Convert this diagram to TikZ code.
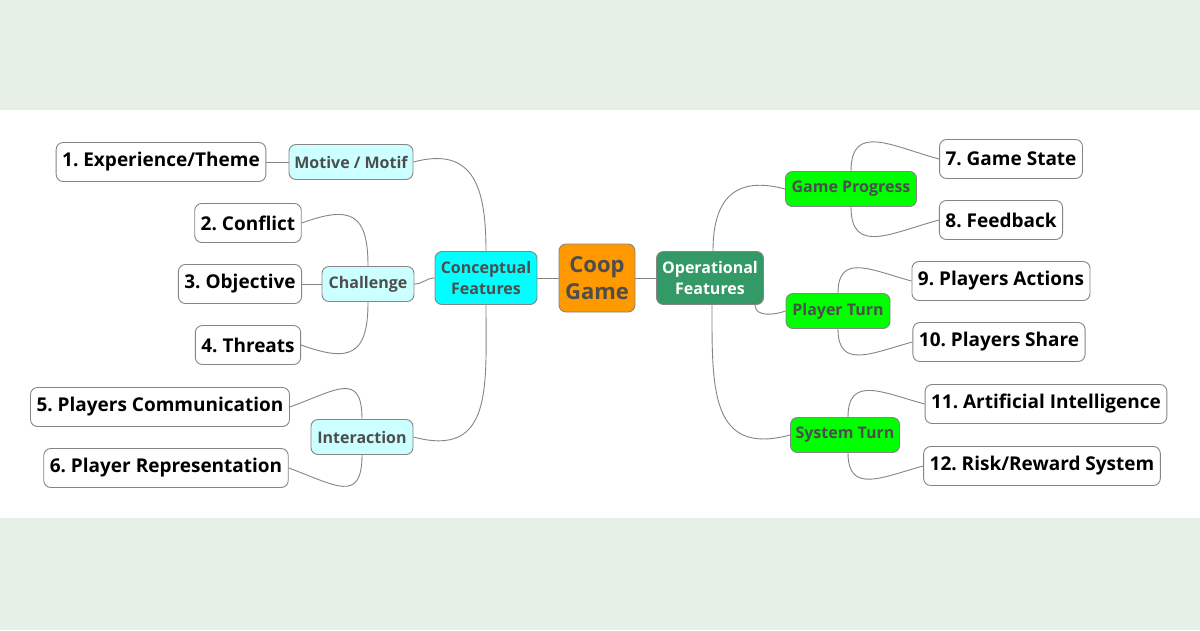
\documentclass[tikz,border=0pt]{standalone}
\usepackage{fontspec}
\setmainfont{Open Sans}
\frenchspacing
\definecolor{bandgreen}{HTML}{E6F0E7}
\definecolor{linegray}{HTML}{858585}
\definecolor{textgray}{HTML}{4D4D4D}
\definecolor{coreorange}{HTML}{FF9900}
\definecolor{concyan}{HTML}{00FFFF}
\definecolor{opgreen}{HTML}{339966}
\definecolor{lightcyan}{HTML}{CCFFFF}
\definecolor{brightgreen}{HTML}{00FF00}
\begin{document}
\begin{tikzpicture}[x=1pt, y=-1pt,
    box/.style={draw=linegray, rounded corners=7pt, line width=0.9pt, align=center, font=\bfseries},
    leaf/.style={box, fill=white, minimum height=39pt, inner xsep=6pt, font=\bfseries\fontsize{19}{22}\selectfont},
    topic/.style={box, minimum height=35pt, inner xsep=4pt, text=textgray, font=\bfseries\fontsize{16}{19}\selectfont},
    main/.style={box, minimum height=53pt, inner xsep=3pt, font=\bfseries\fontsize{16}{21}\selectfont},
    link/.style={draw=linegray, line width=0.9pt}]

    % Hintergrund
    \fill[bandgreen] (0,0) rectangle (1200,630);
    \fill[white] (0,110) rectangle (1200,518);
    \useasboundingbox (0,0) rectangle (1200,630);

    % Mitte
    \node[box, fill=coreorange, text=textgray, minimum width=76pt, minimum height=68pt,
          font=\bfseries\fontsize{22}{27}\selectfont] (coop) at (597,278) {Coop\\Game};
    \node[main, fill=concyan, text=textgray, minimum width=102pt] (con) at (486,278) {Conceptual\\Features};
    \node[main, fill=opgreen, text=white, minimum width=107pt] (op) at (710,278) {Operational\\Features};

    % links
    \node[topic, fill=lightcyan, minimum width=124pt] (mot) at (351,162) {Motive / Motif};
    \node[topic, fill=lightcyan, minimum width=92pt] (cha) at (368,284) {Challenge};
    \node[topic, fill=lightcyan, minimum width=102pt] (int) at (362,437) {Interaction};

    \node[leaf] (l1) at (161,162) {1. Experience/Theme};
    \node[leaf] (l2) at (248,223) {2. Conflict};
    \node[leaf] (l3) at (240,284) {3. Objective};
    \node[leaf] (l4) at (248,345) {4. Threats};
    \node[leaf] (l5) at (160,407) {5. Players Communication};
    \node[leaf] (l6) at (166,468) {6. Player Representation};

    % rechts
    \node[topic, fill=brightgreen, minimum width=131pt] (gp) at (851,189) {Game Progress};
    \node[topic, fill=brightgreen, minimum width=104pt] (pt) at (838,311) {Player Turn};
    \node[topic, fill=brightgreen, minimum width=109pt] (st) at (845,435) {System Turn};

    \node[leaf] (l7) at (1011,159) {7. Game State};
    \node[leaf] (l8) at (1001,220) {8. Feedback};
    \node[leaf] (l9) at (1001,281) {9. Players Actions};
    \node[leaf] (l10) at (999,342) {10. Players Share};
    \node[leaf] (l11) at (1046,404) {11. Artificial Intelligence};
    \node[leaf] (l12) at (1042,466) {12. Risk/Reward System};

    % Verbindungen
    \draw[link] (coop) -- (con);
    \draw[link] (coop) -- (op);

    \draw[link] (con.north) to[out=90, in=15, looseness=1.4] (mot.east);
    \draw[link] (con.west) to[out=180, in=0] (cha.east);
    \draw[link] (con.south) to[out=-90, in=-15, looseness=1.4] (int.east);
    \draw[link] (mot.west) -- (l1.east);
    \draw[link] (cha.north) to[out=90, in=20, looseness=1.7] (l2.east);
    \draw[link] (cha.west) -- (l3.east);
    \draw[link] (cha.south) to[out=-90, in=-20, looseness=1.7] (l4.east);
    \draw[link] (int.north) to[out=90, in=20, looseness=1.7] (l5.east);
    \draw[link] (int.south) to[out=-90, in=-20, looseness=1.7] (l6.east);

    \draw[link] ([xshift=3pt]op.north) to[out=90, in=165, looseness=1.4] (gp.west);
    \draw[link] ([xshift=45pt]op.south) to[out=-90, in=200] (pt.west);
    \draw[link] ([xshift=2pt]op.south) to[out=-90, in=195, looseness=1.4] (st.west);
    \draw[link] (gp.north) to[out=90, in=165, looseness=1.4] (l7.west);
    \draw[link] (gp.south) to[out=-90, in=195, looseness=1.4] (l8.west);
    \draw[link] (pt.north) to[out=90, in=165, looseness=1.4] (l9.west);
    \draw[link] (pt.south) to[out=-90, in=195, looseness=1.4] (l10.west);
    \draw[link] ([xshift=3pt]st.north) to[out=90, in=165, looseness=1.4] (l11.west);
    \draw[link] ([xshift=3pt]st.south) to[out=-90, in=195, looseness=1.4] (l12.west);

\end{tikzpicture}
\end{document}
